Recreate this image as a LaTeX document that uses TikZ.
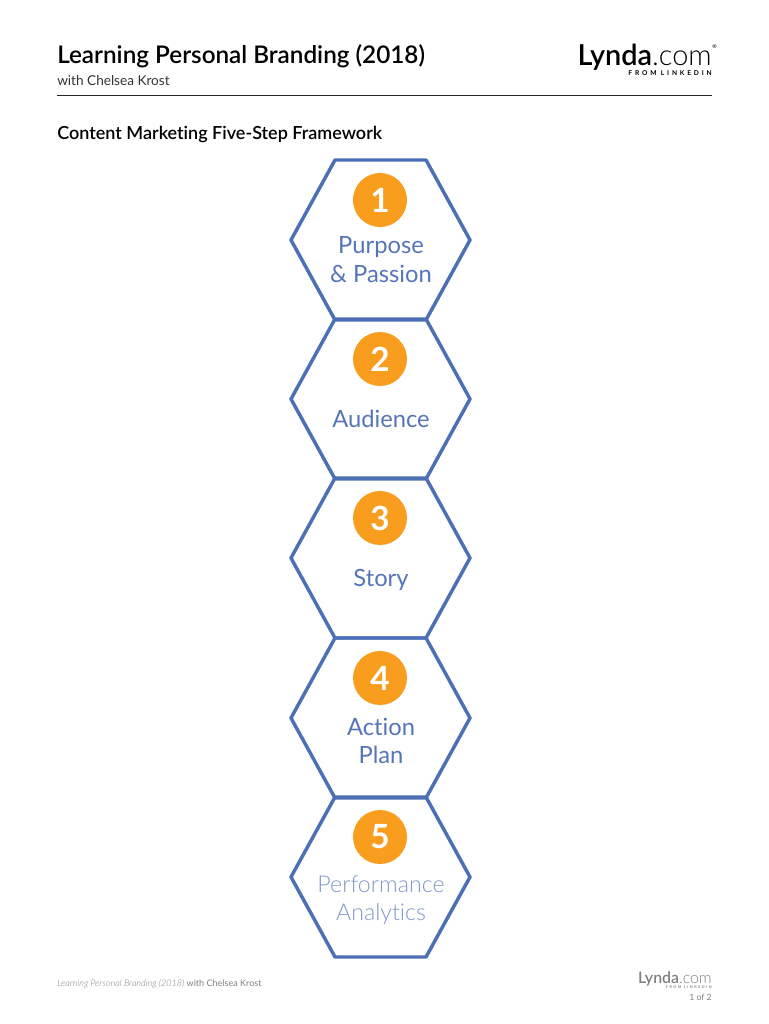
\documentclass[tikz,border=0pt]{standalone}
\usepackage{fontspec}
\setmainfont{Lato}[Ligatures=NoCommon]
\newfontfamily\medfont{Lato Semibold}[Ligatures=NoCommon]
\newfontfamily\lightfont{Lato Light}[Ligatures=NoCommon]
\definecolor{hexblue}{HTML}{4C6FB5}
\definecolor{textblue}{HTML}{5675B8}
\definecolor{paleblue}{HTML}{7F97CB}
\definecolor{numorange}{HTML}{F99D1F}
\tikzset{
  hexline/.style={draw=hexblue, line width=2.6pt, line join=round},
  numdot/.style={circle, fill=numorange, text=white, minimum size=40.5pt, inner sep=0pt, font=\fontsize{25}{25}\selectfont\bfseries},
  steptext/.style={text=textblue, font=\fontsize{17.8}{21.5}\selectfont, align=center},
  footgrey/.style={text=black!50, inner sep=0pt}
}
\begin{document}
\begin{tikzpicture}[x=0.75pt, y=-0.75pt]

    \useasboundingbox (0,0) rectangle (768,1024);

    % Draw the page header
    \node[anchor=base west, inner sep=0pt, font=\medfont\fontsize{18.2}{18}\selectfont] (title) at (57,64) {Learning Personal Branding (2018)};
    \node[anchor=base west, inner sep=0pt, font=\fontsize{10.2}{10}\selectfont, text=black!80] (author) at (57,85) {with Chelsea Krost};
    \draw[line width=0.8pt, black!85] (57,95.5) -- (712,95.5);
    \node[anchor=base west, inner sep=0pt, font=\medfont\fontsize{13.5}{13}\selectfont] (heading) at (57,139) {Content Marketing Five-Step Framework};

    % Draw the logo at the top
    \node[anchor=base east, inner sep=0pt, font=\fontsize{21.7}{22}\selectfont] (logo) at (712,65) {{\medfont Lynda}{\lightfont .com}};
    \node[anchor=base west, inner sep=0pt, font=\fontsize{4}{4}\selectfont] (logoreg) at (712,49) {®};
    \node[anchor=base east, inner sep=0pt, font=\fontsize{5}{4}\selectfont\bfseries\addfontfeature{LetterSpace=42}] (logofrom) at (712,75) {FROM LINKEDIN};

    % Draw the five hexagons
    \foreach \y in {240,399,558,718,877}
        \draw[hexline] (291,\y) -- (335,\y-80) -- (426,\y-80) -- (470,\y) -- (426,\y+80) -- (335,\y+80) -- cycle;

    % Draw the numbered circles
    \node[numdot] (dotone) at (380,200) {1};
    \node[numdot] (dottwo) at (380,359) {2};
    \node[numdot] (dotthree) at (380,518) {3};
    \node[numdot] (dotfour) at (380,678) {4};
    \node[numdot] (dotfive) at (380,837) {5};

    % Add labels for the steps
    \node[steptext] (purpose) at (381,259.5) {Purpose\\\& Passion};
    \node[steptext] (audience) at (381,419) {Audience};
    \node[steptext] (story) at (381,579.5) {Story};
    \node[steptext] (action) at (381,741) {Action\\Plan};
    \node[steptext, text=paleblue, font=\lightfont\fontsize{17.4}{21}\selectfont] (performance) at (381,900.5) {Performance\\Analytics};

    % Add the page footer
    \node[footgrey, anchor=base west, font=\fontsize{6.8}{7}\selectfont] (footer) at (57,986) {{\lightfont\itshape Learning Personal Branding (2018)} with Chelsea Krost};
    \node[footgrey, anchor=base east, font=\fontsize{11.9}{12}\selectfont] (footlogo) at (712,983) {{\medfont Lynda}{\lightfont .com}};
    \node[footgrey, anchor=base east, font=\fontsize{2.75}{3}\selectfont\bfseries\addfontfeature{LetterSpace=42}] (footfrom) at (712,988.5) {FROM LINKEDIN};
    \node[footgrey, anchor=base east, font=\fontsize{6.5}{7}\selectfont] (pageno) at (712,1000) {1 of 2};

\end{tikzpicture}
\end{document}
